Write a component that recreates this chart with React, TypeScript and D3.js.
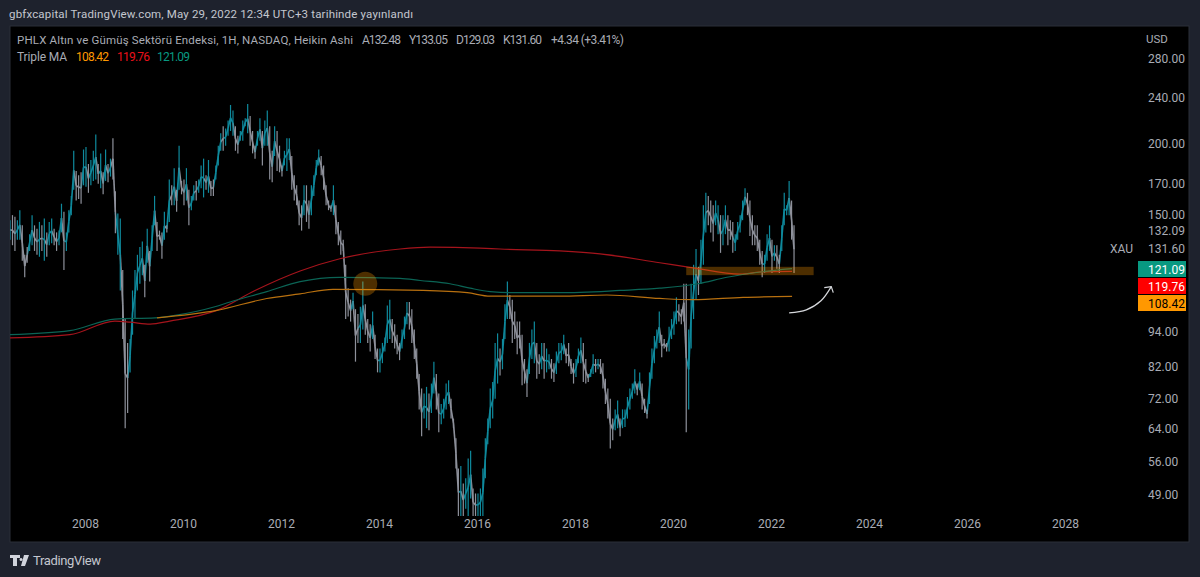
import * as d3 from "d3";
import { useEffect, useRef } from "react";

// heikin ashi bars, 20 per year
const firstBarYear = 2006.47;
const barsPerYear = 20;

const highs = [
  147,150,149,147,153,144,128,132,139,150,144,
  142,146,144,148,140,146,148,142,140,141,157,152,140,153,162,194,179,176,178,195,
  197,184,187,194,207,184,192,178,195,184,188,204,165,151,148,120.5,99,90,91.4,111,
  120.5,128,132,135,123,142,130,144,162,146,141,140,152,144,173,169,181,166,198,172,
  173,181,166,162,169,172,173,183,188,176,187,172,173,183,198,208,214,212,219,233,
  228,214,206,210,219,221,234,223,210,198,210,221,210,219,228,214,194,214,210,198,
  183,194,204,204,190,176,169,159,156,169,169,159,169,176,187,195,190,183,169,159,
  156,169,156,146,141,136,123,112,107,110,103,101,104,115,105,99,97,102,93,88,
  88,90,92,104.5,107,99,97,93,90,95,100,106,106,103,95,88,79.5,75,73.5,75.5,
  73.5,76.5,83.5,79.5,73.5,70.5,72,76.5,77.5,72,66.5,61.5,54.5,55,51.3,52.4,56.7,58.5,50.3,49.3,
  49.3,50.3,54.5,61.5,66.5,75,77,90,93.5,88,91.4,105,115,109,107,102,98,98,93,84.4,
  81,90,95,98,90,86,90,90,88,86,84.4,83,87,90,90,93,88,90,84.4,83,
  84.4,88,92,90,84.4,79.5,81,86,84.4,84.4,84.4,83,78,75,72,66.5,69,71.5,66.5,69,
  69,72.5,75,76.5,81,76.5,80,76.5,72,69,80,88,92.5,95,102,93,91.4,90,96,99,
  102,108,105,103,114,114,95,114,123,131,122,136,156,164,162,159,156,159,156,150,
  150,156,150,147,146,139,146,150,159,167,164,159,150,144,144,136,130,128,139,144,
  136,133,133,128,144,164,156,172,159,144,
];

const lows = [
  136,133,130,136,136,125,117,124,130,133,130,
  128,127,130,125,127,133,134,133,130,133,140,120.5,130,140,150,166,159,160,157,169,
  168,164,169,172,173,170,167,163,172,171,175,173,139.5,128,111,91.4,64,68,80,93,
  99,111,114,118,108,124,115,130,144,130,136,126,136,140,146,156,156,152,166,163,
  156,159,144,153,159,159,164,167,161,166,164,162,162,173,183,194,194,198,206,210,
  206,194,192,202,202,214,208,198,192,188,198,202,183,198,198,173,171,190,179,178,
  175,183,179,187,166,159,156,144,141,150,146,142,150,162,176,183,176,166,156,153,
  152,150,139,133,128,130,99,100,98,103,83.5,90,90,95,93,90,87,91.4,84.4,80,
  80,83,87,90,91.4,90,88,86,84,88,91.4,97,95,90,84.4,78,69,62,66.5,64,
  63.5,68,73.5,69,63,65,66.5,69,70.5,66.5,64,54.5,45,45,45,46.4,45,48.3,45,45,
  45,45,45,52.4,60,64,66.5,72,76.5,79,81,91.4,99,99,90,91.4,86,88,76,76.5,
  72.5,79.5,84.4,83,78,79.5,81,78,80,81,78,77,79.5,83,84,86,83,82,79.5,76.5,
  78.5,83,83,77,76.5,77,78.5,79.5,80,81,79.5,75,70.5,66.5,59,61,63.5,64,62,64,
  64.3,66.5,69,72,73.5,73,74.5,69,68,66.5,70.5,78,83,88,90,85,88,87,87,91.4,
  93,97,98,97,98,63,69,88,99,107,109,114,123,140,144,140,135,144,139,129,
  133,139,133,136,129,130,136,140,147,156,150,138,133,133,130,123,117,119,125,130,
  119,125,121,119,130,144,150,150,136,119,
];

// u = rising bar, d = falling bar, one row per year
const barDirs = [
  "udduuddduud",
  "dududuudduuduuuudddu",
  "uduuududududduuddduu",
  "uuuududuudddudududud",
  "duduuduuududduuuduuu",
  "udduuuuddduuduuddudd",
  "duuudddddudduuuudddd",
  "dudddddddudduudddudd",
  "uuuuudddduuudddddduu",
  "duudduuuudddduduuudd",
  "uuuuuuuuuduuuddddddd",
  "duuudduduudduuuudddd",
  "uuuddduududddddduudu",
  "uuuuududdduuuuuddduu",
  "uudddduuuuduuuddduud",
  "uuddduuuuuddddddduuu",
  "dudduuuudd",
].join("");

const tealYears = [2006.47,2007.69,2008.61,2009.43,2009.84,2010.65,2010.96,2011.71,2012.39,2013.2,2014.43,2014.84,2015.45,2015.86,2016.27,2016.88,2017.69,2018.92,2019.73,2020.51,2021.1,2021.78,2022.43];
const tealValues = [93,94.5,99,99.5,100.5,104,106,110.5,115,117,116.5,115.5,114,112,110.5,110,110,111,112,114,117,119.5,121.09];
const redYears = [2006.47,2007.69,2008.61,2008.92,2009.33,2009.73,2010.69,2011.47,2012.39,2013.2,2014.43,2015.04,2016.06,2016.47,2017.69,2018.51,2019.73,2020.41,2021.37,2021.78,2022.43];
const redValues = [91.8,93,98.2,97.8,97,98.2,102.5,111,120,126,131,132,131.5,131,130,128.5,124,121.5,118.5,119.5,119.76];
const orangeYears = [2009.47,2010.69,2011.71,2012.39,2013.06,2014.9,2015.8,2016.27,2017.69,2018.65,2019.73,2020.41,2021.43,2022.43];
const orangeValues = [99.5,102.5,107.5,109.5,111.5,111,110,108.5,108.5,109,107.5,107,108,108.42];

const yearTicks = [2008,2010,2012,2014,2016,2018,2020,2022,2024,2026,2028];
const priceTicks = [280,240,200,170,150,94,82,72,64,56,49];

// drawn shapes on the chart
const zoneYears = [2020.27, 2022.87];
const zonePrices = [122, 118];
const circleYear = 2013.72;
const circlePrice = 114;
const arrowYears = [2022.37, 2022.72, 2023.02, 2023.23];
const arrowPrices = [101.5, 102.7, 106.5, 112.7];

const BG = "#1e222d";
const TEXT = "#a9acb5";
const TEAL = "#0f8a9d";
const GRAY = "#8e919b";
const FONT = "Roboto, 'Liberation Sans', sans-serif";

export default function App() {
  const plotRef = useRef<SVGGElement>(null);
  const xAxisRef = useRef<SVGGElement>(null);
  const yAxisRef = useRef<SVGGElement>(null);

  const x = d3.scaleLinear().domain([2008, 2028]).range([85, 1065]);
  const y = d3.scaleLog().domain([280, 49]).range([59, 495]);

  useEffect(() => {
    if (!plotRef.current || !xAxisRef.current || !yAxisRef.current) return;

    const plot = d3.select(plotRef.current);
    plot.selectAll("*").remove();

    const barX = (i: number) => x(firstBarYear + i / barsPerYear);
    const mid = (i: number) => y(Math.sqrt(highs[i] * lows[i]));
    const barColor = (i: number) => (barDirs[i] === "u" ? TEAL : GRAY);

    // joins each bar to the one before it, so the run of bars reads as one trace
    plot
      .selectAll("line.join")
      .data(highs.slice(1))
      .enter()
      .append("line")
      .attr("class", "join")
      .attr("x1", (_, i) => barX(i))
      .attr("x2", (_, i) => barX(i + 1))
      .attr("y1", (_, i) => mid(i))
      .attr("y2", (_, i) => mid(i + 1))
      .attr("stroke", (_, i) => barColor(i + 1))
      .attr("stroke-width", 1.6);

    plot
      .selectAll("line.bar")
      .data(highs)
      .enter()
      .append("line")
      .attr("class", "bar")
      .attr("x1", (_, i) => barX(i))
      .attr("x2", (_, i) => barX(i))
      .attr("y1", (d) => y(d))
      .attr("y2", (_, i) => y(lows[i]))
      .attr("stroke", (_, i) => barColor(i))
      .attr("stroke-width", 1.2);

    const drawLine = (years: number[], values: number[], color: string) => {
      const line = d3
        .line<number>()
        .x((_, i) => x(years[i]))
        .y((d) => y(d))
        .curve(d3.curveMonotoneX);
      plot
        .append("path")
        .attr("d", line(values))
        .attr("fill", "none")
        .attr("stroke", color)
        .attr("stroke-width", 1.2);
    };
    drawLine(redYears, redValues, "#a5141c");
    drawLine(tealYears, tealValues, "#0b6455");
    drawLine(orangeYears, orangeValues, "#b8700f");

    // zone and circle sit over the bars
    plot
      .append("rect")
      .attr("x", x(zoneYears[0]))
      .attr("width", x(zoneYears[1]) - x(zoneYears[0]))
      .attr("y", y(zonePrices[0]))
      .attr("height", y(zonePrices[1]) - y(zonePrices[0]))
      .attr("fill", "#ff9800")
      .attr("fill-opacity", 0.3);
    plot
      .append("circle")
      .attr("cx", x(circleYear))
      .attr("cy", y(circlePrice))
      .attr("r", 12)
      .attr("fill", "#ff9800")
      .attr("fill-opacity", 0.3);

    const arrow = d3
      .line<number>()
      .x((_, i) => x(arrowYears[i]))
      .y((d) => y(d))
      .curve(d3.curveCatmullRom);
    plot
      .append("path")
      .attr("d", arrow(arrowPrices))
      .attr("fill", "none")
      .attr("stroke", "#d6d8dc")
      .attr("stroke-width", 1.2);
    const tipX = x(arrowYears[3]);
    const tipY = y(arrowPrices[3]);
    plot
      .append("path")
      .attr("d", `M${tipX - 7},${tipY + 1}L${tipX},${tipY}L${tipX + 2},${tipY + 6}`)
      .attr("fill", "none")
      .attr("stroke", "#d6d8dc")
      .attr("stroke-width", 1.2);

    const xAxis = d3
      .select(xAxisRef.current)
      .call(d3.axisBottom(x).tickValues(yearTicks).tickFormat(d3.format("d")).tickSize(0));
    xAxis.select(".domain").remove();
    xAxis
      .selectAll("text")
      .attr("fill", TEXT)
      .attr("font-family", FONT)
      .attr("font-size", 12);

    const yAxis = d3
      .select(yAxisRef.current)
      .call(d3.axisRight(y).tickValues(priceTicks).tickFormat(d3.format(".2f")).tickSize(0));
    yAxis.select(".domain").remove();
    yAxis
      .selectAll("text")
      .attr("fill", TEXT)
      .attr("font-family", FONT)
      .attr("font-size", 12);
  }, []);

  const tag = (label: string, top: number, fill: string, color: string) => (
    <g key={label}>
      <rect x={1138} y={top} width={48} height={16} fill={fill} />
      <text x={1148} y={top + 12.5} fill={color} fontSize={12}>
        {label}
      </text>
    </g>
  );

  return (
    <svg
      width={1200}
      height={577}
      style={{ position: "absolute", left: 0, top: 0, background: BG }}
      fontFamily={FONT}
    >
      <defs>
        <clipPath id="plot-clip">
          <rect x={10} y={26} width={1127} height={490} />
        </clipPath>
      </defs>

      <text x={9} y={18} fill="#c4c7cf" fontSize={11.5} textLength={404}>
        gbfxcapital TradingView.com, May 29, 2022 12:34 UTC+3 tarihinde yayınlandı
      </text>

      <rect x={10} y={26} width={1179} height={516} fill="#000" stroke="#2a2e39" />

      <g ref={plotRef} clipPath="url(#plot-clip)" />
      <g ref={xAxisRef} transform="translate(0,516)" />
      <g ref={yAxisRef} transform="translate(1145,0)" />

      <text x={17} y={44} fill={TEXT} fontSize={11.5} textLength={336}>
        PHLX Altın ve Gümüş Sektörü Endeksi, 1H, NASDAQ, Heikin Ashi
      </text>
      <text x={362} y={44} fill={TEXT} fontSize={12} textLength={39}>A132.48</text>
      <text x={409} y={44} fill={TEXT} fontSize={12} textLength={39}>Y133.05</text>
      <text x={456} y={44} fill={TEXT} fontSize={12} textLength={39}>D129.03</text>
      <text x={503} y={44} fill={TEXT} fontSize={12} textLength={39}>K131.60</text>
      <text x={551} y={44} fill={TEXT} fontSize={12} textLength={73}>+4.34 (+3.41%)</text>

      <text x={17} y={61} fill={TEXT} fontSize={12} textLength={50}>Triple MA</text>
      <text x={76} y={61} fill="#ff9800" fontSize={12} textLength={33}>108.42</text>
      <text x={117} y={61} fill="#e8101a" fontSize={12} textLength={33}>119.76</text>
      <text x={157} y={61} fill="#089981" fontSize={12} textLength={33}>121.09</text>

      <text x={1146} y={43} fill={TEXT} fontSize={11.5}>USD</text>
      <text x={1148} y={235} fill={TEXT} fontSize={12}>132.09</text>
      <text x={1110} y={253} fill={TEXT} fontSize={12}>XAU</text>
      <text x={1148} y={253} fill={TEXT} fontSize={12}>131.60</text>
      {tag("121.09", 261, "#089981", "#fff")}
      {tag("119.76", 278, "#ff0000", "#fff")}
      {tag("108.42", 295, "#ff9800", "#000")}

      <path d="M10,555h10v3h-3v8h-4v-8h-3zM21,558a1.5,1.5 0 1 0 0.01,0zM24,555h5l-4,11h-4z" fill="#d1d4dc" />
      <text x={33} y={565} fill="#c4c7cf" fontSize={13} textLength={68}>TradingView</text>
    </svg>
  );
}
